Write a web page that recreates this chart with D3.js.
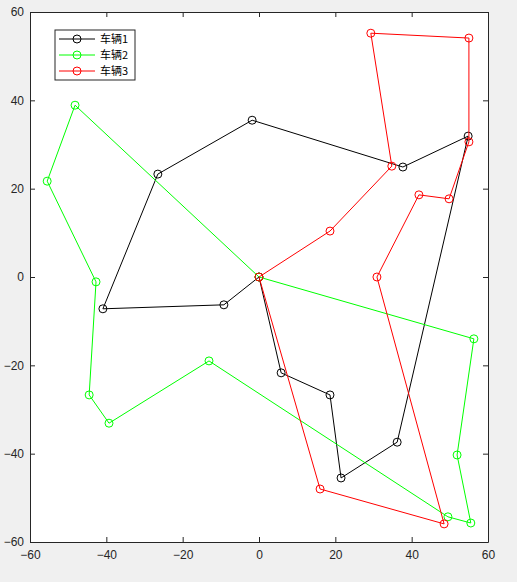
<!DOCTYPE html>
<html><head><meta charset="utf-8">
<script src="https://cdn.jsdelivr.net/npm/d3@7"></script>
<style>body{margin:0;background:#f0f0f0;}svg{display:block;font-family:"Noto Sans CJK SC",sans-serif;}</style>
</head><body>
<svg id="c" width="517" height="582"></svg>
<script>
"use strict";
const names = ["车辆1", "车辆2", "车辆3"];
const colors = ["#000000", "#00ff00", "#ff0000"];
const route1 = [[0,0],[5.8,-21.7],[18.6,-26.7],[21.5,-45.5],[36.2,-37.4],[54.8,31.9],[37.7,24.9],[-1.8,35.5],[-26.5,23.3],[-40.9,-7.2],[-9.2,-6.3],[0,0]];
const route2 = [[0,0],[56.3,-14.0],[51.9,-40.3],[55.5,-55.7],[49.5,-54.3],[-13.1,-19.0],[-39.3,-33.1],[-44.5,-26.7],[-42.7,-1.1],[-55.5,21.7],[-48.2,38.9],[0,0]];
const route3 = [[0,0],[18.6,10.4],[34.8,25.1],[29.3,55.2],[55.0,54.1],[55.0,30.6],[49.8,17.7],[41.9,18.6],[30.9,0],[48.5,-55.9],[16.0,-48.0],[0,0]];
const routes = [route1, route2, route3];
const ticks = [-60, -40, -20, 0, 20, 40, 60];

const svg = d3.select("#c");
const L = 30, R = 488, T = 12, B = 542;
const x = d3.scaleLinear().domain([-60, 60]).range([L, R]);
const y = d3.scaleLinear().domain([-60, 60]).range([B, T]);

svg.append("rect").attr("x", L).attr("y", T).attr("width", R - L).attr("height", B - T)
  .attr("fill", "#fff");

const line = d3.line().x(d => x(d[0])).y(d => y(d[1]));
routes.forEach((r, i) => {
  svg.append("path").attr("d", line(r)).attr("fill", "none")
    .attr("stroke", colors[i]).attr("stroke-width", 1);
  svg.selectAll(null).data(r.slice(0, -1)).enter().append("circle")
    .attr("cx", d => x(d[0])).attr("cy", d => y(d[1])).attr("r", 4)
    .attr("fill", "none").attr("stroke", colors[i]);
});

const ax = d3.axisBottom(x).tickValues(ticks).tickSizeInner(-5).tickSizeOuter(0).tickPadding(8);
const ay = d3.axisLeft(y).tickValues(ticks).tickSizeInner(-5).tickSizeOuter(0).tickPadding(6);
const gx = svg.append("g").attr("transform", `translate(0,${B})`).call(ax);
const gy = svg.append("g").attr("transform", `translate(${L},0)`).call(ay);
svg.append("g").attr("transform", `translate(0,${T})`).call(d3.axisTop(x).tickValues(ticks).tickSizeInner(-5).tickSizeOuter(0).tickFormat(""));
svg.append("g").attr("transform", `translate(${R},0)`).call(d3.axisRight(y).tickValues(ticks).tickSizeInner(-5).tickSizeOuter(0).tickFormat(""));
svg.selectAll(".domain, .tick line").attr("stroke", "#262626");
svg.selectAll(".tick text").attr("font-size", 12).attr("fill", "#262626").attr("font-family", "Liberation Sans, Arial, sans-serif");

// legend
const lg = svg.append("g").attr("transform", "translate(55,30)");
lg.append("rect").attr("width", 80).attr("height", 50).attr("fill", "#fff").attr("stroke", "#262626");
names.forEach((n, i) => {
  const yy = 9 + i * 16;
  lg.append("line").attr("x1", 4).attr("x2", 40).attr("y1", yy).attr("y2", yy).attr("stroke", colors[i]);
  lg.append("circle").attr("cx", 22).attr("cy", yy).attr("r", 4).attr("fill", "none").attr("stroke", colors[i]);
  lg.append("text").attr("x", 45).attr("y", yy + 4).attr("font-size", 11).attr("fill", "#000").text(n);
});
</script>
</body></html>
